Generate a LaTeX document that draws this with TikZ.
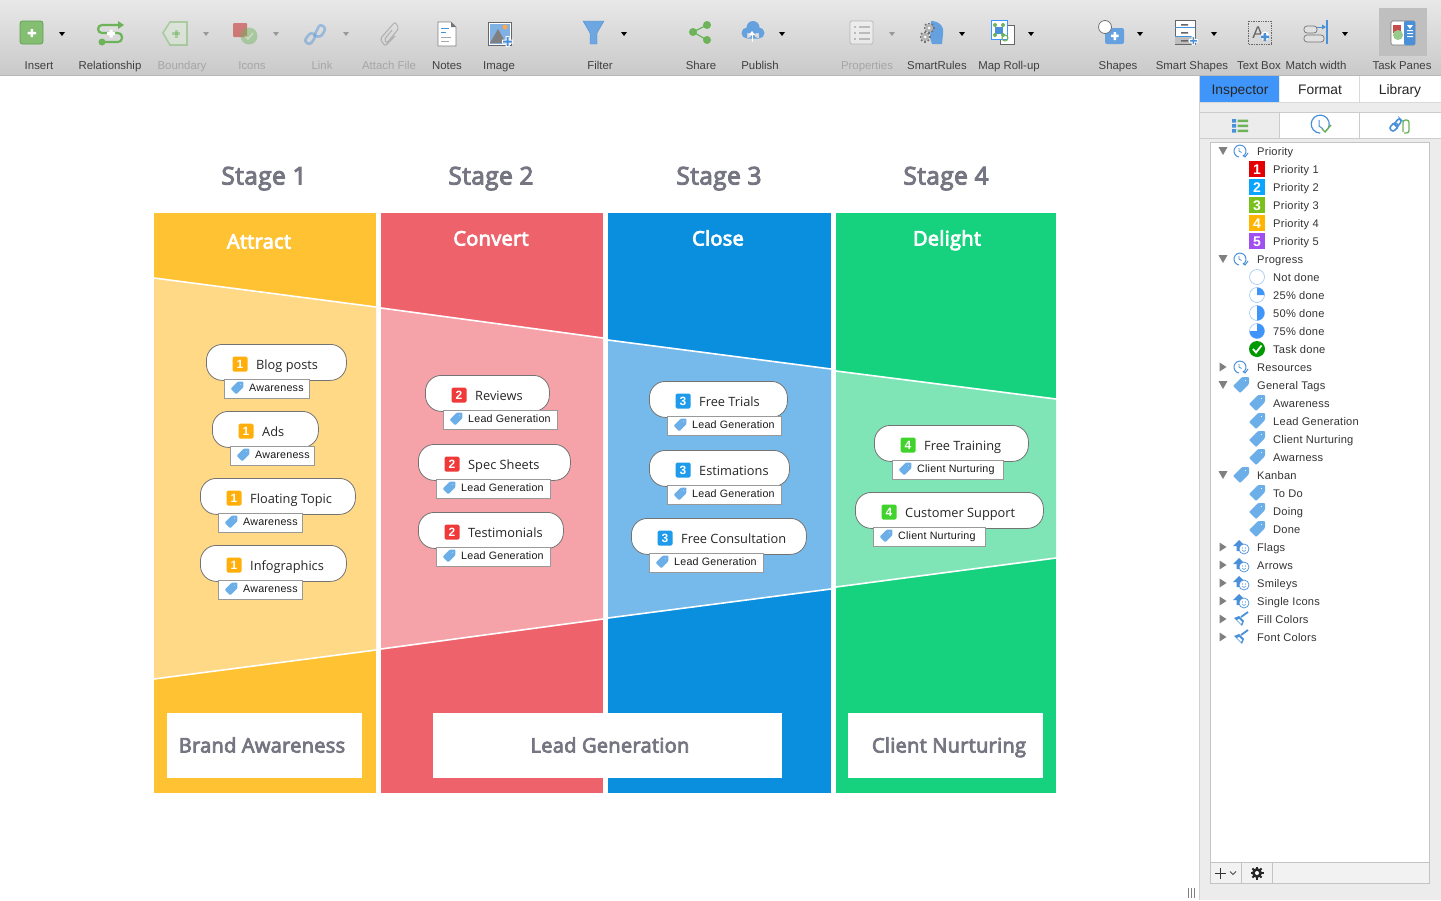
\documentclass[tikz,border=0pt]{standalone}
\usepackage{fontspec}
\setmainfont{Liberation Sans}
\newfontfamily\topicfont{Open Sans}
\newfontfamily\headfont[FakeBold=4,LetterSpace=1.5]{Open Sans}
\newfontfamily\tagfont[LetterSpace=2]{Liberation Sans}
\newfontfamily\treefont[LetterSpace=2]{Liberation Sans}

\definecolor{attractdark}{HTML}{FFC233}
\definecolor{attractlight}{HTML}{FFD985}
\definecolor{convertdark}{HTML}{EE626B}
\definecolor{convertlight}{HTML}{F5A2A8}
\definecolor{closedark}{HTML}{0A8EDE}
\definecolor{closelight}{HTML}{75BAEB}
\definecolor{delightdark}{HTML}{16D27E}
\definecolor{delightlight}{HTML}{80E5B6}
\definecolor{headgray}{HTML}{757682}
\definecolor{tagblue}{HTML}{6CAEE8}
\definecolor{iconblue}{HTML}{4A90D9}
\definecolor{icongreen}{HTML}{6DB35A}
\definecolor{paneblue}{HTML}{3F95FA}
\definecolor{pielight}{HTML}{A8CCF5}
\definecolor{panegray}{HTML}{ECECEC}
\definecolor{linegray}{HTML}{C4C4C4}
\definecolor{badgeone}{HTML}{FFAE0A}
\definecolor{badgetwo}{HTML}{F03A3A}
\definecolor{badgethree}{HTML}{1F9BEB}
\definecolor{badgefour}{HTML}{3FD32B}
\definecolor{prioone}{HTML}{E30000}
\definecolor{priotwo}{HTML}{0AA5FF}
\definecolor{priothree}{HTML}{7AC11E}
\definecolor{priofour}{HTML}{FFB400}
\definecolor{priofive}{HTML}{A050F0}

\tikzset{
	topicbox/.style = {draw=black!55, fill=white, line width=0.8pt, rounded corners=16pt, minimum height=36pt, inner sep=0pt, anchor=north west},
	tagbox/.style = {draw=black!40, fill=white, line width=0.8pt, minimum height=19pt, inner sep=0pt, anchor=north west},
	badge/.style = {rounded corners=1.5pt, minimum size=15pt, inner sep=0pt, text=white, text height=8.6pt, text depth=0pt, font=\fontsize{12}{12}\selectfont\bfseries},
	topictext/.style = {anchor=west, inner sep=0pt, text=black!85, text height=9.3pt, text depth=0pt, font=\fontsize{12.8}{14}\topicfont},
	tagtext/.style = {anchor=west, inner sep=0pt, text=black!90, text height=7.6pt, text depth=0pt, font=\fontsize{10.7}{11}\tagfont},
	headtext/.style = {inner sep=0pt, text=headgray, text height=18pt, text depth=0pt, font=\fontsize{24.5}{26}\headfont},
	coltext/.style = {inner sep=0pt, text=white, text height=15pt, text depth=0pt, font=\fontsize{20}{22}\headfont},
	goaltext/.style = {inner sep=0pt, text=headgray, text height=15pt, text depth=0pt, font=\fontsize{20}{22}\headfont},
	toollabel/.style = {inner sep=0pt, text=black!75, text height=8.2pt, text depth=0pt, font=\fontsize{11.4}{13}\selectfont},
	toolgray/.style = {inner sep=0pt, text=black!35, text height=8.2pt, text depth=0pt, font=\fontsize{11.4}{13}\selectfont},
	treetext/.style = {anchor=west, inner sep=0pt, text=black!80, text height=8pt, text depth=0pt, font=\fontsize{11.1}{12}\treefont},
	panetab/.style = {inner sep=0pt, text height=10pt, text depth=0pt, font=\fontsize{13.8}{14}\selectfont, text=black!85},
}

\newcommand{\TagIcon}[3]{
	\begin{scope}[shift={(#1,#2)}, scale=#3]
		\fill[tagblue, rounded corners=1pt, even odd rule] (-8,1) -- (1,-8) -- (8,-8) -- (8,-1) -- (-1,8) -- cycle (4.5,-4.5) circle (0.8);
	\end{scope}
}
\newcommand{\ClockIcon}[2]{
	\begin{scope}[shift={(#1,#2)}]
		\draw[iconblue, line width=1pt] (3,5.3) arc[start angle=-60, end angle=260, radius=6pt];
		\draw[iconblue, line width=0.8pt] (-1,-3) -- (-1,0) -- (1.5,1.5);
		\draw[iconblue, line width=1pt] (3,4) -- (5,6) -- (8,2);
	\end{scope}
}
\newcommand{\SmileIcon}[2]{
	\begin{scope}[shift={(#1,#2)}]
		\fill[iconblue] (-2,-7) -- (-8,-1) -- (-4.5,-1) -- (-4.5,4) -- (1,4) -- (1,-1) -- (4,-1) -- cycle;
		\draw[iconblue, fill=white, line width=0.7pt] (3,2) circle (5);
		\fill[iconblue] (1.5,1) circle (0.6) (4.5,1) circle (0.6);
		\draw[iconblue, line width=0.5pt] (1,3) .. controls (2,5) and (4,5) .. (5,3);
	\end{scope}
}
\newcommand{\BrushIcon}[2]{
	\begin{scope}[shift={(#1,#2)}]
		\fill[iconblue] (-7,-1) -- (-2,-3) -- (3,2) -- (1,7) -- cycle;
		\fill[white] (-4,1) -- (-2,0) -- (1,3) -- (0,5) -- cycle;
		\draw[iconblue, line width=1.8pt] (0,-2) -- (7,-7);
	\end{scope}
}
\newcommand{\TriDown}[2]{\fill[black!50] (#1-4.5,#2-4) -- (#1+4.5,#2-4) -- (#1,#2+4) -- cycle;}
\newcommand{\TriRight}[2]{\fill[black!50] (#1-3.5,#2-4.5) -- (#1+3.5,#2) -- (#1-3.5,#2+4.5) -- cycle;}

% name, left, top, width, tag width, badge colour, digit, text, tag
\newcommand{\Topic}[9]{
	\begin{scope}[shift={(#2,#3)}]
		\node[topicbox, minimum width=#4pt] (#1) at (0,0) {};
		\node[badge, fill=#6] (#1badge) at (34,20) {#7};
		\node[topictext] (#1text) at (50,20.5) {#8};
		\node[tagbox, minimum width=#5pt] (#1tag) at (18,34.5) {};
		\TagIcon{31}{44}{0.8}
		\node[tagtext] (#1tagtext) at (43,43.5) {#9};
	\end{scope}
}

\begin{document}
\begin{tikzpicture}[x=1pt, y=-1pt]
	\useasboundingbox (0,0) rectangle (1441,900);
	\fill[white] (0,0) rectangle (1441,900);

	% columns
	\fill[attractdark] (154,213) rectangle (376,793);
	\fill[convertdark] (381,213) rectangle (603,793);
	\fill[closedark] (608,213) rectangle (831,793);
	\fill[delightdark] (836,213) rectangle (1056,793);
	\fill[attractlight] (154,278) -- (376,307) -- (376,650) -- (154,679) -- cycle;
	\fill[convertlight] (381,308) -- (603,338) -- (603,619) -- (381,649) -- cycle;
	\fill[closelight] (608,340) -- (831,369) -- (831,589) -- (608,618) -- cycle;
	\fill[delightlight] (836,371) -- (1056,399) -- (1056,558) -- (836,587) -- cycle;
	\draw[white, line width=1.6pt] (154,278) -- (376,307) (381,308) -- (603,338) (608,340) -- (831,369) (836,371) -- (1056,399);
	\draw[white, line width=1.6pt] (154,679) -- (376,650) (381,649) -- (603,619) (608,618) -- (831,589) (836,587) -- (1056,558);

	\node[headtext] (stage1) at (264,175.5) {Stage 1};
	\node[headtext] (stage2) at (491,175.5) {Stage 2};
	\node[headtext] (stage3) at (719,175.5) {Stage 3};
	\node[headtext] (stage4) at (946,175.5) {Stage 4};
	\node[coltext] (attract) at (259,241) {Attract};
	\node[coltext] (convert) at (491,238) {Convert};
	\node[coltext] (close) at (718,238) {Close};
	\node[coltext] (delight) at (947,238) {Delight};

	\fill[white] (167,713) rectangle (362,778);
	\fill[white] (433,713) rectangle (782,778);
	\fill[white] (848,713) rectangle (1043,778);
	\node[goaltext] (brand) at (262,745) {Brand Awareness};
	\node[goaltext] (lead) at (610,745) {Lead Generation};
	\node[goaltext] (client) at (949,745) {Client Nurturing};

	% topics
	\Topic{blog}{206}{344}{140}{85}{badgeone}{1}{Blog posts}{Awareness}
	\Topic{ads}{212}{411}{106}{84}{badgeone}{1}{Ads}{Awareness}
	\Topic{floating}{200}{478}{155}{84}{badgeone}{1}{Floating Topic}{Awareness}
	\Topic{info}{200}{545}{146}{84}{badgeone}{1}{Infographics}{Awareness}
	\Topic{reviews}{425}{375}{124}{114}{badgetwo}{2}{Reviews}{Lead Generation}
	\Topic{spec}{418}{444}{152}{114}{badgetwo}{2}{Spec Sheets}{Lead Generation}
	\Topic{testi}{418}{512}{145}{114}{badgetwo}{2}{Testimonials}{Lead Generation}
	\Topic{trials}{649}{381}{138}{114}{badgethree}{3}{Free Trials}{Lead Generation}
	\Topic{estim}{649}{450}{140}{114}{badgethree}{3}{Estimations}{Lead Generation}
	\Topic{consult}{631}{518}{175}{114}{badgethree}{3}{Free Consultation}{Lead Generation}
	\Topic{training}{874}{425}{154}{111}{badgefour}{4}{Free Training}{Client Nurturing}
	\Topic{support}{855}{492}{188}{112}{badgefour}{4}{Customer Support}{Client Nurturing}

	% toolbar
	\shade[top color=black!9, bottom color=black!21] (0,0) rectangle (1441,75);
	\fill[black!28] (0,75) rectangle (1441,76);
	\fill[black!25] (1379,8) rectangle (1427,56);
	\foreach \lx/\ltext in {39/Insert, 110/Relationship, 447/Notes, 499/Image, 600/Filter, 701/Share, 760/Publish, 937/SmartRules, 1009/Map Roll-up, 1118/Shapes, 1192/Smart Shapes, 1259/Text Box, 1316/Match width, 1402/Task Panes}
		\node[toollabel] (tool\lx) at (\lx,65) {\ltext};
	\foreach \lx/\ltext in {182/Boundary, 252/Icons, 322/Link, 389/Attach File, 867/Properties}
		\node[toolgray] (tool\lx) at (\lx,65) {\ltext};
	\foreach \ax in {62,624,782,962,1031,1140,1214,1345}
		\fill[black] (\ax-3,32) -- (\ax+3,32) -- (\ax,36) -- cycle;
	\foreach \ax in {206,276,346,892}
		\fill[black!40] (\ax-3,32) -- (\ax+3,32) -- (\ax,36) -- cycle;

	% insert, relationship
	\draw[fill=icongreen!85, draw=icongreen!90!black, rounded corners=2.5pt, line width=0.8pt] (20,21) rectangle (43,44);
	\fill[white] (30.5,29) rectangle (33,37) (27.5,31.8) rectangle (36,34.3);
	\draw[icongreen, line width=2.2pt, rounded corners=4pt] (102,42) -- (122,42) -- (122,33) -- (98,33) -- (98,25) -- (120,25);
	\fill[icongreen] (118,21) -- (124,25) -- (118,29) -- cycle;
	\fill[icongreen] (102,42) circle (3.5);
	\fill[white] (109.5,29.5) rectangle (112.5,37.5) (107,32) rectangle (115,35);
	% boundary, icons, link, attach
	\begin{scope}[opacity=0.45]
		\draw[icongreen, line width=1.6pt, fill=icongreen!25] (187,22) -- (170,22) -- (163,33) -- (170,45) -- (187,45) -- cycle;
		\fill[icongreen] (172,32) rectangle (180,35);
		\fill[icongreen] (174.5,29.5) rectangle (177.5,37.5);
		\fill[red!75!black, rounded corners=1pt] (233,23) rectangle (247,37);
		\fill[icongreen] (249,36) circle (8.5);
		\draw[white, line width=1.2pt] (245,36) -- (248,39) -- (253,33);
		\draw[iconblue, line width=2.6pt, rounded corners=3pt] (304,41) -- (311,32) -- (316,36) -- (310,45) -- cycle;
		\draw[iconblue, line width=2.6pt, rounded corners=3pt] (314,36) -- (320,24) -- (326,28) -- (321,37) -- cycle;
		\draw[black!50, line width=1.1pt, rounded corners=2pt] (392,30) -- (384,40) -- (387,43) -- (399,28) -- (395,22) -- (380,39) -- (385,46) -- (395,36);
	\end{scope}
	% notes, image
	\fill[white, draw=black!50, line width=0.6pt] (438,22) -- (451,22) -- (456,27) -- (456,46) -- (438,46) -- cycle;
	\fill[black!55] (451,22) -- (456,27) -- (451,27) -- cycle;
	\draw[iconblue, line width=0.9pt] (441,28) -- (449,28) (441,32) -- (446,32);
	\draw[black!35, line width=0.9pt] (441,37) -- (451,37) (441,41) -- (449,41);
	\fill[white, draw=black!60, line width=0.8pt] (488,22) rectangle (511,45);
	\fill[iconblue!70] (489.5,23.5) rectangle (509.5,43.5);
	\fill[black!50] (490,43) -- (498,29) -- (506,43) -- cycle;
	\fill[orange!70] (505,27) circle (2.5);
	\fill[white] (505.5,36) rectangle (509.5,47) (502,39.5) rectangle (513,43.5);
	\fill[iconblue] (506.5,37) rectangle (508.5,46) (503,40.5) rectangle (512,42.5);
	% filter, share, publish
	\fill[iconblue!80, draw=iconblue] (583,21) -- (604,21) -- (597,33) -- (597,44) -- (590,44) -- (590,33) -- cycle;
	\draw[icongreen, line width=1.2pt] (693,32) -- (707,25) (693,32) -- (707,40);
	\fill[icongreen] (693,32) circle (4) (707,25) circle (4) (707,40) circle (4);
	\fill[iconblue!85] (747,33) circle (5.5) (753,27.5) circle (6.5) (759,33) circle (5.5) (747,33) rectangle (759,38.5);
	\draw[white, line width=1pt] (752,42) -- (752,33);
	\fill[white] (749,35) -- (752,31) -- (755,35) -- cycle;
	% properties, smartrules, map rollup
	\begin{scope}[opacity=0.45]
		\draw[black!50, fill=white, rounded corners=1.5pt, line width=0.9pt] (850,21) rectangle (873,44);
		\foreach \py in {27,33,39}
			\draw[black!50, line width=1.4pt] (854,\py) -- (856,\py) (859,\py) -- (870,\py);
	\end{scope}
	\fill[iconblue!85] (931,21) .. controls (940,21) and (945,28) .. (943,34) -- (942,44) -- (932,44) -- (930,38) -- cycle;
	\foreach \gx/\gy in {929/28, 925/37} {
		\foreach \ga in {0,45,...,315}
			\draw[black!55, line width=1.5pt] (\gx,\gy) -- ++(\ga:5.5);
		\fill[black!30] (\gx,\gy) circle (4);
		\fill[white] (\gx,\gy) circle (1.5);
	}
	\fill[white, draw=black!60, line width=0.7pt] (1000,25) rectangle (1014,44);
	\fill[white, draw=paneblue, line width=0.9pt] (991,20) rectangle (1007,39);
	\fill[iconblue] (995,27) rectangle (1003,34);
	\fill[icongreen] (995,25) circle (2) (1003,25) circle (2) (995,35) circle (2) (1003,35) circle (2);
	\draw[icongreen, line width=1pt] (1005,38) circle (3);
	% shapes, smart shapes, text box, match width
	\fill[iconblue!85, rounded corners=2pt] (1105,28) rectangle (1124,44);
	\draw[black!55, fill=white, line width=0.8pt] (1105,27) circle (6.5);
	\fill[white] (1113.5,32) rectangle (1116,40) (1111,34.5) rectangle (1118.5,37);
	\draw[black!60, fill=white, line width=0.7pt] (1175,20) rectangle (1195,44);
	\fill[black!25] (1175,37) rectangle (1195,44);
	\draw[iconblue, line width=1pt] (1175,27.5) -- (1195,27.5) (1175,36.5) -- (1195,36.5);
	\fill[black!60] (1181,24) rectangle (1188,25.5) (1181,32) rectangle (1188,33.5) (1181,40) rectangle (1188,41.5);
	\fill[white] (1191.5,36) rectangle (1195,45) (1189,39) rectangle (1198,42.5);
	\fill[iconblue] (1192.5,37) rectangle (1194,44) (1190,40) rectangle (1197,41.5);
	\draw[black!60, densely dotted, line width=0.7pt] (1248,21) rectangle (1271,44);
	\node[inner sep=0pt, text=black!60, text height=12pt, text depth=0pt, font=\fontsize{17}{17}\selectfont] (textboxA) at (1258,32) {A};
	\fill[white] (1265,36) circle (4.5);
	\fill[iconblue] (1263.5,33) rectangle (1266,41) (1261,35.5) rectangle (1269,38);
	\draw[black!55, fill=black!12, rounded corners=3pt, line width=0.7pt] (1304,26) rectangle (1317,33);
	\draw[black!55, fill=black!12, rounded corners=3pt, line width=0.7pt] (1304,35) rectangle (1324,42);
	\draw[iconblue, line width=1.6pt] (1327,20) -- (1327,44);
	\draw[iconblue, line width=1pt] (1317,27) -- (1323,27);
	\fill[iconblue] (1322,24.5) -- (1326,27) -- (1322,29.5) -- cycle;
	% task panes
	\fill[white, draw=black!55, rounded corners=1.5pt, line width=0.6pt] (1391,21) rectangle (1415,45);
	\fill[iconblue, rounded corners=1pt] (1404,21) rectangle (1415,45);
	\fill[red!70!black, opacity=0.7] (1393,25) rectangle (1401,33);
	\fill[icongreen!70] (1398,35) circle (5);
	\fill[white] (1407,30) rectangle (1413,31) (1407,33) rectangle (1413,34) (1407,36) rectangle (1413,37);
	\fill[white] (1407,25) -- (1413,25) -- (1410,29) -- cycle;

	% panel
	\fill[panegray] (1199,76) rectangle (1441,900);
	\draw[black!18] (1199.5,76) -- (1199.5,900);
	\fill[paneblue] (1200,76) rectangle (1279,102);
	\fill[white] (1280,76) rectangle (1441,102);
	\draw[black!15] (1359.5,76) -- (1359.5,102) (1200,102.5) -- (1441,102.5);
	\node[panetab] (inspector) at (1240,89.5) {Inspector};
	\node[panetab] (format) at (1320,89.5) {Format};
	\node[panetab] (library) at (1400,89.5) {Library};
	\fill[white] (1280,112) rectangle (1441,138);
	\draw[black!20] (1200,112.5) -- (1441,112.5) (1200,138.5) -- (1441,138.5) (1279.5,112) -- (1279.5,138) (1359.5,112) -- (1359.5,138);
	\fill[iconblue] (1232,119) rectangle (1236,122.5) (1232,124) rectangle (1236,127.5) (1232,129) rectangle (1236,132.5);
	\fill[icongreen] (1237.5,119.5) rectangle (1248,122) (1237.5,124.5) rectangle (1248,127) (1237.5,129.5) rectangle (1248,132);
	\draw[iconblue, line width=1.2pt] (1326,131) arc[start angle=-50, end angle=270, radius=9pt];
	\draw[iconblue, line width=1pt] (1319,120) -- (1319,126) -- (1323,129);
	\draw[icongreen, line width=1.4pt] (1322,129) -- (1325,132) -- (1331,125);
	\draw[iconblue, line width=1.6pt, rounded corners=2.5pt] (1389,128) -- (1395,122) -- (1399,126) -- (1393,132) -- cycle;
	\draw[iconblue, line width=1.6pt, rounded corners=2.5pt] (1394,124) -- (1399,118) -- (1402,121) -- (1397,127) -- cycle;
	\draw[icongreen, line width=1.4pt, rounded corners=2.5pt] (1403,132) -- (1403,120) -- (1409,120) -- (1409,133) -- (1404,133);
	\fill[white, draw=linegray] (1210.5,142.5) rectangle (1429.5,862.5);
	\fill[black!5, draw=linegray] (1210.5,862.5) rectangle (1429.5,883.5);
	\draw[linegray] (1241.5,862.5) -- (1241.5,883.5) (1272.5,862.5) -- (1272.5,883.5);
	\draw[black!80, line width=0.8pt] (1215,873) -- (1226,873) (1220.5,867.5) -- (1220.5,878.5);
	\draw[black!70, line width=0.8pt] (1230,871.5) -- (1233,874.5) -- (1236,871.5);
	\foreach \ga in {0,45,...,315}
		\draw[black!85, line width=2pt] (1257,873) -- ++(\ga:6.5);
	\fill[black!85] (1257,873) circle (5);
	\fill[white] (1257,873) circle (2);
	\draw[black!50] (1188.5,888) -- (1188.5,898) (1191.5,888) -- (1191.5,898) (1194.5,888) -- (1194.5,898);

	% tree
	\foreach \ypos/\rtext in {151/Priority, 259/Progress, 367/Resources, 385/General Tags, 475/Kanban, 547/Flags, 565/Arrows, 583/Smileys, 601/Single Icons, 619/Fill Colors, 637/Font Colors}
		\node[treetext] (row\ypos) at (1257,\ypos) {\rtext};
	\foreach \ypos/\rtext in {169/Priority 1, 187/Priority 2, 205/Priority 3, 223/Priority 4, 241/Priority 5, 277/Not done, 295/25\% done, 313/50\% done, 331/75\% done, 349/Task done, 403/Awareness, 421/Lead Generation, 439/Client Nurturing, 457/Awarness, 493/To Do, 511/Doing, 529/Done}
		\node[treetext] (row\ypos) at (1273,\ypos) {\rtext};
	\foreach \ypos in {151,259,385,475} {\TriDown{1223}{\ypos}}
	\foreach \ypos in {367,547,565,583,601,619,637} {\TriRight{1223}{\ypos}}
	\foreach \ypos in {151,259,367} {\ClockIcon{1240}{\ypos}}
	\foreach \ypos in {385,475} {\TagIcon{1241}{\ypos}{1}}
	\foreach \ypos in {403,421,439,457,493,511,529} {\TagIcon{1257}{\ypos}{1}}
	\foreach \ypos in {547,565,583,601} {\SmileIcon{1241}{\ypos}}
	\foreach \ypos in {619,637} {\BrushIcon{1241}{\ypos}}
	\foreach \ypos/\rcol/\rnum in {169/prioone/1, 187/priotwo/2, 205/priothree/3, 223/priofour/4, 241/priofive/5}
		\node[fill=\rcol, minimum size=16pt, inner sep=0pt, text=white, text height=10pt, text depth=0pt, font=\fontsize{14}{14}\selectfont\bfseries] (prio\rnum) at (1257,\ypos) {\rnum};
	\foreach \ypos in {277,295,313,331}
		\draw[pielight, fill=white, line width=0.7pt] (1257,\ypos) circle (7.5);
	\fill[paneblue] (1257,295) -- (1257,287.5) arc[start angle=90, end angle=0, radius=7.5pt] -- cycle;
	\fill[paneblue] (1257,313) -- (1257,305.5) arc[start angle=90, end angle=-90, radius=7.5pt] -- cycle;
	\fill[paneblue] (1257,331) -- (1257,323.5) arc[start angle=90, end angle=-180, radius=7.5pt] -- cycle;
	\fill[green!60!black] (1257,349) circle (8);
	\draw[white, line width=1.8pt] (1253,349) -- (1256,352.5) -- (1261.5,345.5);
\end{tikzpicture}
\end{document}
